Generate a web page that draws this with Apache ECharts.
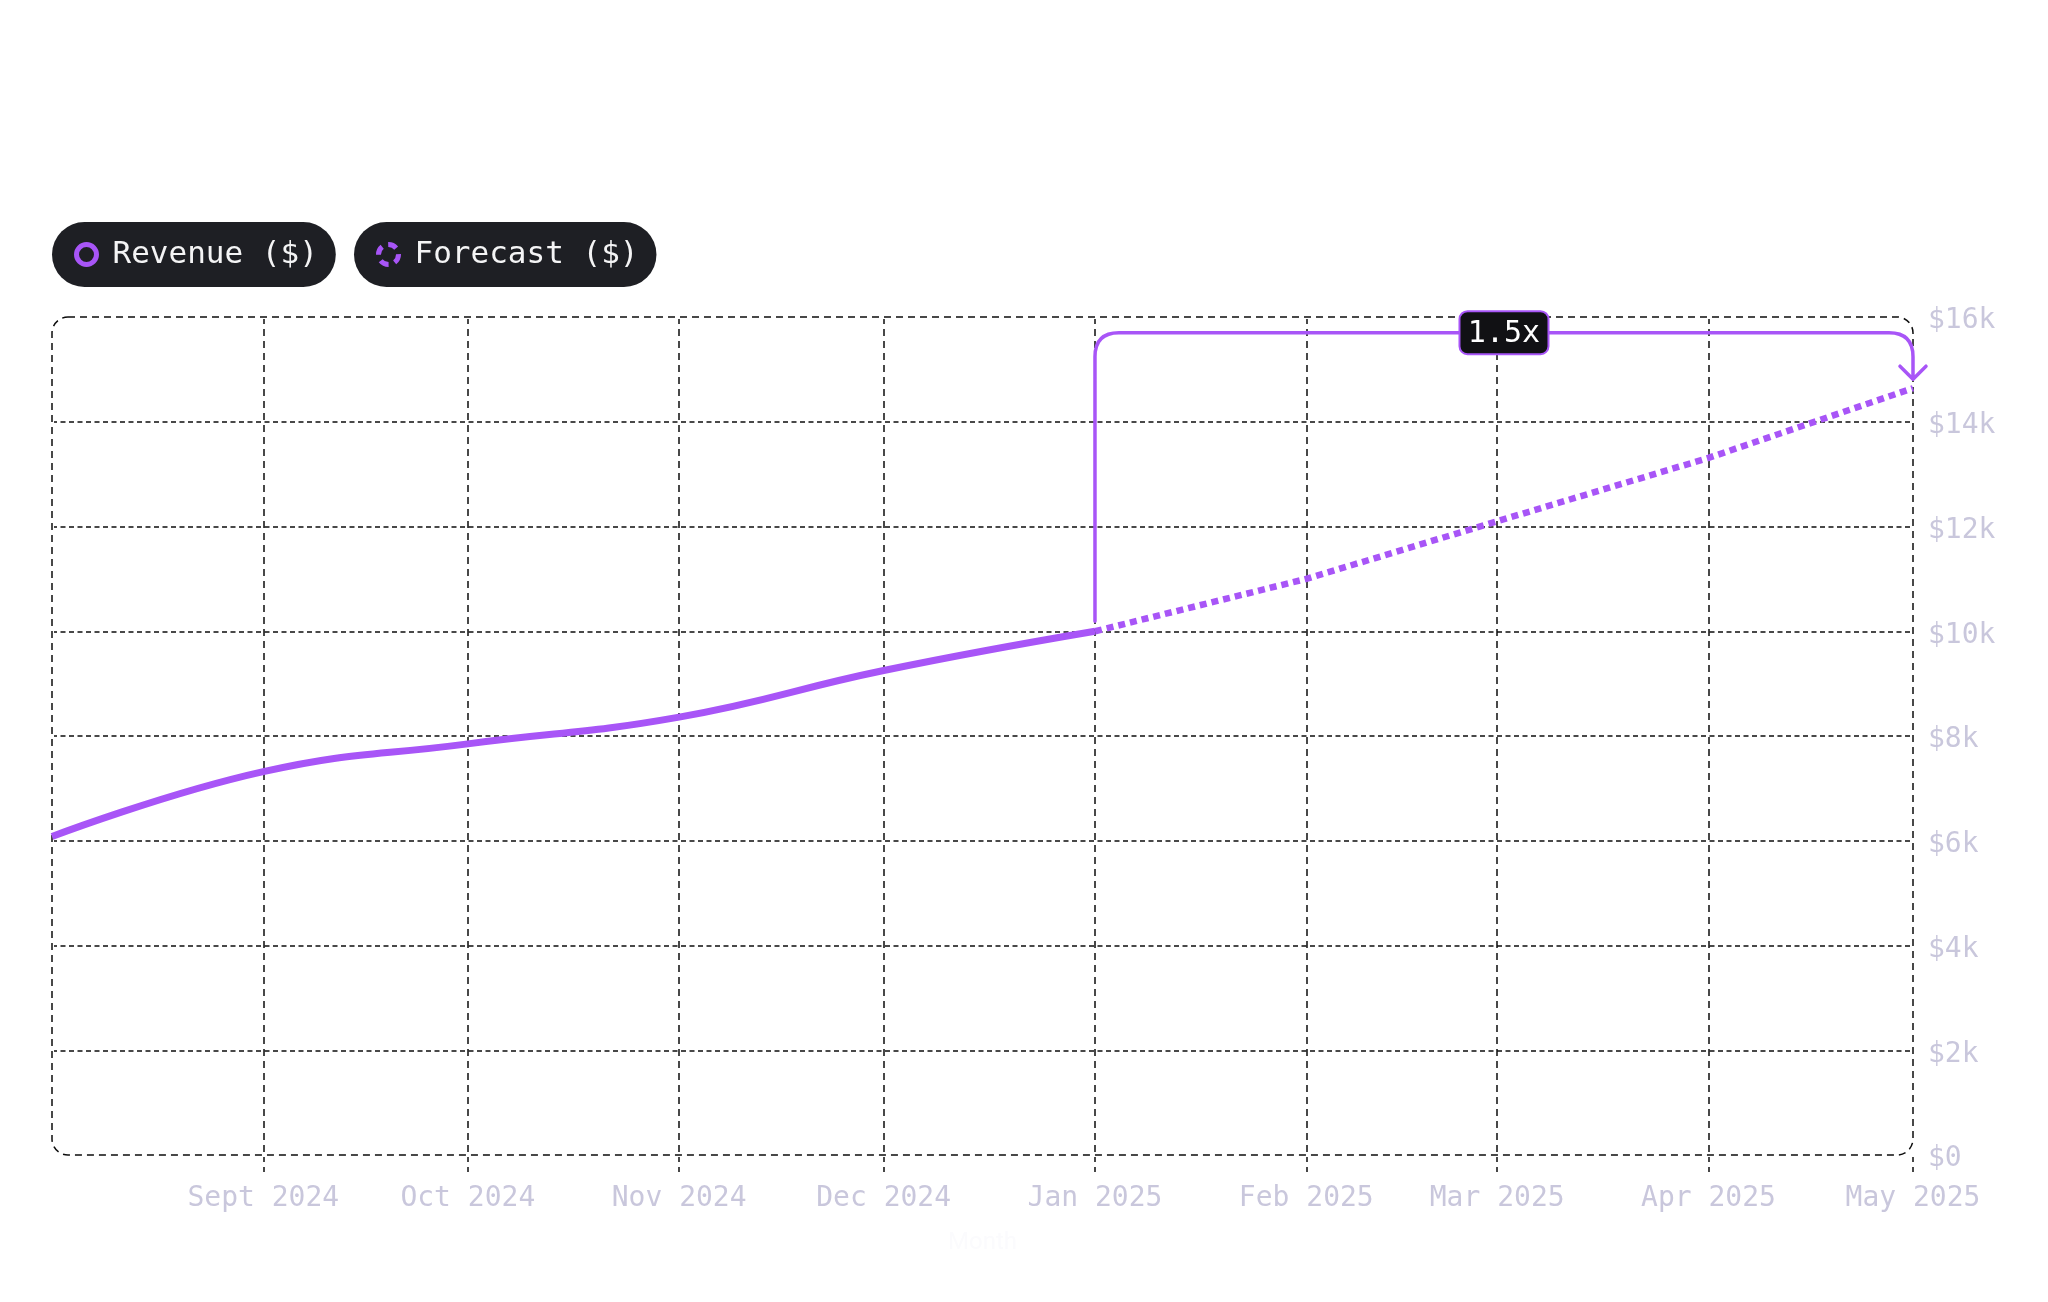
<!DOCTYPE html>
<html>
<head>
    <meta charset="utf-8">
    <title>Revenue Growth</title>
    <script src="https://cdn.jsdelivr.net/npm/echarts@6/dist/echarts.min.js"></script>
    <style>
        html, body { margin: 0; padding: 0; background: #ffffff; }
        #main { width: 2048px; height: 1302px; }
    </style>
</head>
<body>
<div id="main"></div>
<script>
    // data
    var monthStarts = ['2024-08-01', '2024-09-01', '2024-10-01', '2024-11-01', '2024-12-01',
        '2025-01-01', '2025-02-01', '2025-03-01', '2025-04-01', '2025-05-01'];
    var tickLabels = ['', 'Sept 2024', 'Oct 2024', 'Nov 2024', 'Dec 2024',
        'Jan 2025', 'Feb 2025', 'Mar 2025', 'Apr 2025', 'May 2025'];
    var revenueDates = monthStarts.slice(0, 6);
    var revenue = [6080, 7320, 7850, 8360, 9250, 10000];
    var forecastDates = monthStarts.slice(5);
    var forecast = [10000, 11000, 12100, 13310, 14640];
    var bracketTop = 15700;   // level of the "1.5x" bracket
    var bracketLabel = '1.5x';

    var purple = '#a855f7';
    var mono = '"DejaVu Sans Mono", "Liberation Mono", monospace';
    var axisGrey = '#c9c7dc';
    var gridInk = '#0d0d0d';
    var DAY = 24 * 3600 * 1000;

    function toPairs(xs, ys) {
        return xs.map(function (x, i) { return [x, ys[i]]; });
    }

    function pill(left, name, borderType) {
        return {
            left: left,
            top: 222,
            padding: [17, 18, 17, 22],
            backgroundColor: '#1e1f24',
            borderRadius: 33,
            itemWidth: 20,
            itemHeight: 20,
            selectedMode: false,
            formatter: function (n) { return '{t|' + n + '}'; },
            textStyle: {
                color: '#f4f4f5', fontSize: 31, fontFamily: mono,
                rich: { t: { color: '#f4f4f5', fontSize: 31, fontFamily: mono, lineHeight: 31, padding: [0, 0, 0, 11] } }
            },
            data: [{
                name: name,
                icon: 'circle',
                itemStyle: { color: 'rgba(0,0,0,0)', borderColor: purple, borderWidth: 5, borderType: borderType }
            }]
        };
    }

    var myChart = echarts.init(document.getElementById('main'));

    var option = {
        backgroundColor: '#ffffff',
        animation: false,
        title: {
            text: 'Revenue Growth',
            subtext: 'Forecasted 4-month revenue growth at 1.5x rate',
            left: 46,
            top: 60,
            itemGap: 34,
            textStyle: { color: '#ffffff', fontSize: 62, fontWeight: 'bold', fontFamily: 'Roboto' },
            subtextStyle: { color: '#ffffff', fontSize: 38, fontFamily: 'Roboto' }
        },
        // two pill shaped legends
        legend: [
            pill(52, 'Revenue ($)', 'solid'),
            pill(354, 'Forecast ($)', [9, 6.5])
        ],
        grid: {
            left: 52,
            right: 135,
            top: 317,
            bottom: 147,
            outerBoundsMode: 'none'
        },
        xAxis: {
            type: 'time',
            min: monthStarts[0],
            max: monthStarts[monthStarts.length - 1],
            splitNumber: 9,
            minInterval: 28 * DAY,
            maxInterval: 31 * DAY,
            name: 'Month',
            nameLocation: 'middle',
            nameGap: 76,
            nameTextStyle: { color: '#fbfbfd', fontSize: 24, fontFamily: 'Roboto' },
            axisLine: { show: false },
            axisTick: {
                show: true,
                length: 17,
                lineStyle: { color: gridInk, width: 1.5, type: [7, 5] }
            },
            axisLabel: {
                margin: 30,
                color: axisGrey,
                fontSize: 28,
                fontFamily: mono,
                hideOverlap: false,
                formatter: function (value) {
                    var d = new Date(value);
                    var idx = (d.getFullYear() - 2024) * 12 + d.getMonth() - 7;
                    return tickLabels[idx] || '';
                }
            },
            splitLine: {
                show: true,
                lineStyle: { color: gridInk, width: 1.5, type: [7, 5] }
            }
        },
        yAxis: {
            type: 'value',
            position: 'right',
            min: 0,
            max: 16000,
            interval: 2000,
            axisLine: { show: false },
            axisTick: { show: false },
            axisLabel: {
                margin: 15,
                color: axisGrey,
                fontSize: 28,
                fontFamily: mono,
                formatter: function (v) { return '{v|' + (v === 0 ? '$0' : '$' + (v / 1000) + 'k') + '}'; },
                rich: { v: { color: axisGrey, fontSize: 28, fontFamily: mono, padding: [8, 0, 0, 0] } }
            },
            splitLine: {
                show: true,
                lineStyle: { color: gridInk, width: 1.5, type: [5, 3.5] }
            }
        },
        series: [{
            // rounded dashed frame round the plot area; white underlay hides the square edge lines
            type: 'custom',
            silent: true,
            z: 1,
            clip: false,
            data: [[monthStarts[0], 0]],
            renderItem: function (params, api) {
                var cs = params.coordSys;
                var x = cs.x, y = cs.y, w = cs.width, h = cs.height, r = 16;
                var x2 = x + w, y2 = y + h;
                var corners = 'M' + (x - 2) + ' ' + (y - 2) + ' L' + (x + r) + ' ' + (y - 2) + ' L' + (x + r) + ' ' + y +
                    ' Q' + x + ' ' + y + ' ' + x + ' ' + (y + r) + ' L' + (x - 2) + ' ' + (y + r) + ' Z' +
                    ' M' + (x2 + 2) + ' ' + (y - 2) + ' L' + (x2 - r) + ' ' + (y - 2) + ' L' + (x2 - r) + ' ' + y +
                    ' Q' + x2 + ' ' + y + ' ' + x2 + ' ' + (y + r) + ' L' + (x2 + 2) + ' ' + (y + r) + ' Z' +
                    ' M' + (x - 2) + ' ' + (y2 + 2) + ' L' + (x + r) + ' ' + (y2 + 2) + ' L' + (x + r) + ' ' + y2 +
                    ' Q' + x + ' ' + y2 + ' ' + x + ' ' + (y2 - r) + ' L' + (x - 2) + ' ' + (y2 - r) + ' Z' +
                    ' M' + (x2 + 2) + ' ' + (y2 + 2) + ' L' + (x2 - r) + ' ' + (y2 + 2) + ' L' + (x2 - r) + ' ' + y2 +
                    ' Q' + x2 + ' ' + y2 + ' ' + x2 + ' ' + (y2 - r) + ' L' + (x2 + 2) + ' ' + (y2 - r) + ' Z';
                return {
                    type: 'group',
                    children: [{
                        type: 'rect',
                        shape: { x: x, y: y, width: w, height: h, r: r },
                        style: { fill: null, stroke: '#ffffff', lineWidth: 4 }
                    }, {
                        type: 'path',
                        shape: { pathData: corners },
                        style: { fill: '#ffffff', stroke: null }
                    }, {
                        // first month tick is not shown in the original
                        type: 'rect',
                        shape: { x: x - 3, y: y2 + 2, width: 6, height: 20 },
                        style: { fill: '#ffffff' }
                    }, {
                        type: 'rect',
                        shape: { x: x, y: y, width: w, height: h, r: r },
                        style: { fill: null, stroke: gridInk, lineWidth: 1.5, lineDash: [7, 5] }
                    }]
                };
            }
        }, {
            name: 'Revenue ($)',
            type: 'line',
            z: 3,
            smooth: 0.45,
            showSymbol: false,
            lineStyle: { color: purple, width: 7 },
            itemStyle: { color: purple },
            data: toPairs(revenueDates, revenue)
        }, {
            name: 'Forecast ($)',
            type: 'line',
            z: 3,
            showSymbol: false,
            lineStyle: { color: purple, width: 6.5, type: [7, 5] },
            itemStyle: { color: purple },
            data: toPairs(forecastDates, forecast)
        }, {
            // bracket with arrow and multiplier label
            type: 'custom',
            silent: true,
            z: 5,
            clip: false,
            encode: { x: [0, 1], y: [2, 3, 4] },
            data: [[forecastDates[0], forecastDates[forecastDates.length - 1], bracketTop,
                revenue[revenue.length - 1], forecast[forecast.length - 1]]],
            renderItem: function (params, api) {
                var p0 = api.coord([api.value(0), api.value(3)]);
                var p1 = api.coord([api.value(1), api.value(4)]);
                var yTop = api.coord([api.value(0), api.value(2)])[1];
                var x0 = p0[0], y0 = p0[1] - 10;
                var x1 = p1[0], yEnd = p1[1] - 9;
                var r = 24, a = 13;
                var d = 'M' + x0 + ' ' + y0 + ' L' + x0 + ' ' + (yTop + r) +
                    ' Q' + x0 + ' ' + yTop + ' ' + (x0 + r) + ' ' + yTop +
                    ' L' + (x1 - r) + ' ' + yTop +
                    ' Q' + x1 + ' ' + yTop + ' ' + x1 + ' ' + (yTop + r) +
                    ' L' + x1 + ' ' + yEnd +
                    ' M' + (x1 - a) + ' ' + (yEnd - a) + ' L' + x1 + ' ' + yEnd + ' L' + (x1 + a) + ' ' + (yEnd - a);
                var cx = (x0 + x1) / 2;
                var bw = 89, bh = 43;
                return {
                    type: 'group',
                    children: [{
                        type: 'path',
                        shape: { pathData: d },
                        style: { fill: null, stroke: purple, lineWidth: 3.5, lineJoin: 'round', lineCap: 'round' }
                    }, {
                        type: 'rect',
                        shape: { x: cx - bw / 2, y: yTop - bh / 2, width: bw, height: bh, r: 8 },
                        style: { fill: '#111114', stroke: purple, lineWidth: 2 }
                    }, {
                        type: 'text',
                        x: cx,
                        y: yTop + 1,
                        style: {
                            text: bracketLabel,
                            fill: '#ffffff',
                            font: '30px ' + mono,
                            align: 'center',
                            verticalAlign: 'middle'
                        }
                    }]
                };
            }
        }]
    };

    myChart.setOption(option);
</script>
</body>
</html>
